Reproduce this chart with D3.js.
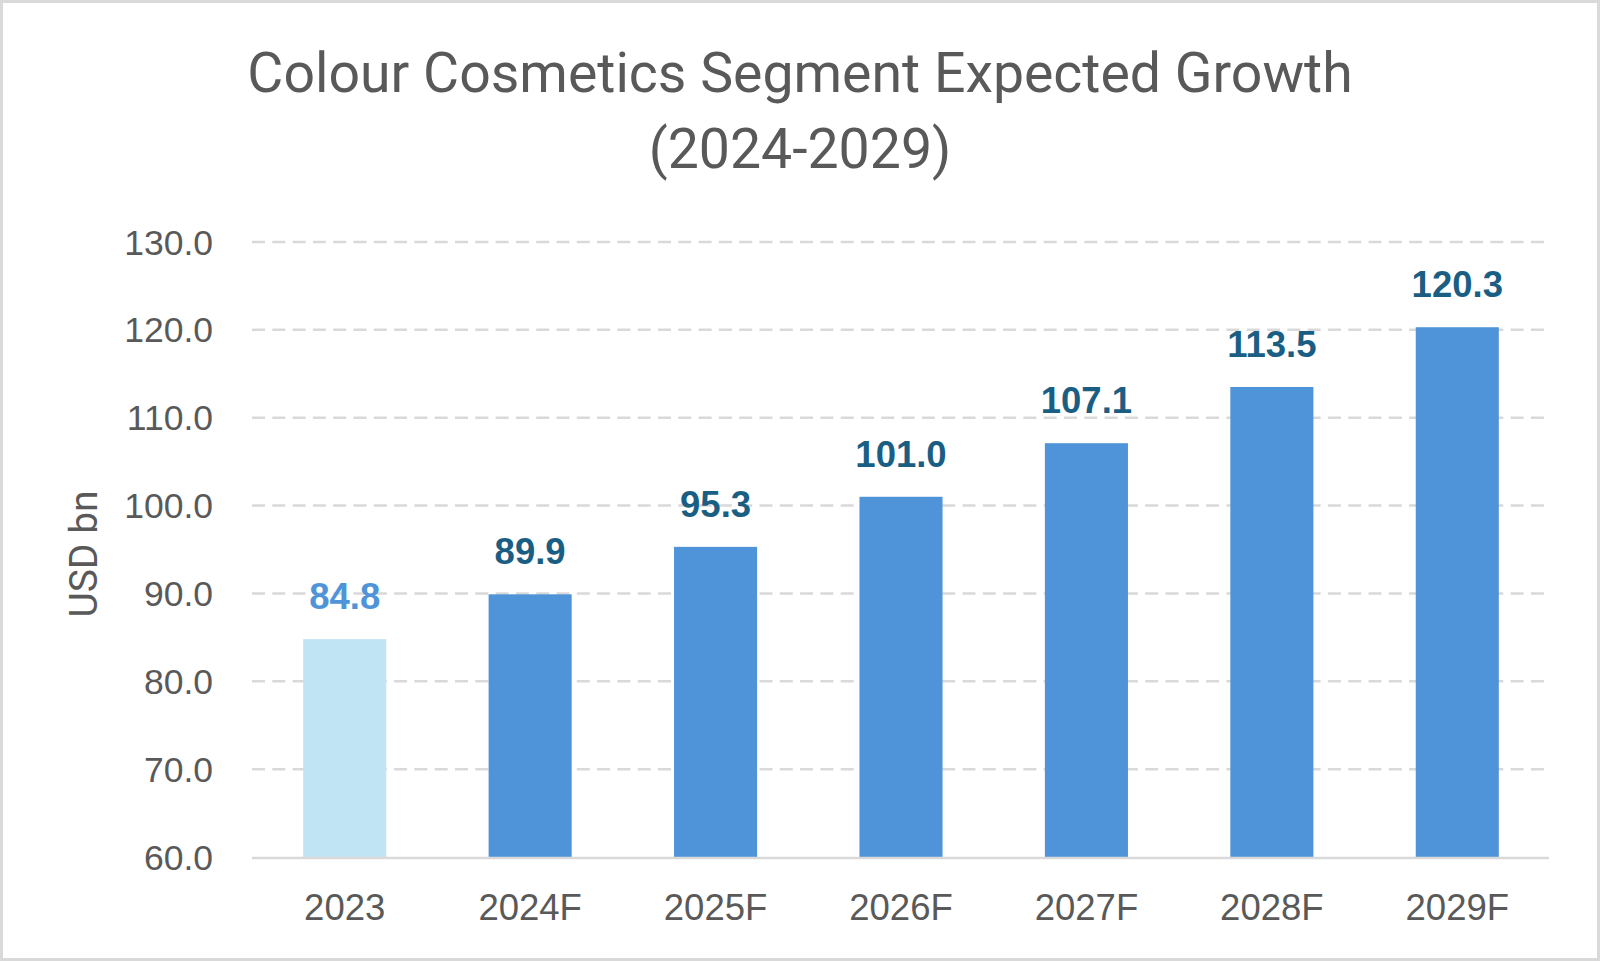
<!DOCTYPE html>
<html>
<head>
<meta charset="utf-8">
<script src="https://cdn.jsdelivr.net/npm/d3@7"></script>
<style>
html,body{margin:0;padding:0;background:#fff;}
svg{display:block;}
</style>
</head>
<body>
<svg id="chart" width="1600" height="961"></svg>
<script>
const categories = ["2023","2024F","2025F","2026F","2027F","2028F","2029F"];
const values = [84.8, 89.9, 95.3, 101.0, 107.1, 113.5, 120.3];
const yTicks = [60,70,80,90,100,110,120,130];
const titleLines = ["Colour Cosmetics Segment Expected Growth","(2024-2029)"];
const yAxisTitle = "USD bn";

const W = 1600, H = 961;
const svg = d3.select("#chart");
const textColor = "#595959";

// border
svg.append("rect").attr("x",1.5).attr("y",1.5).attr("width",W-3).attr("height",H-3)
  .attr("fill","#fff").attr("stroke","#D9D9D9").attr("stroke-width",3);

const plot = {left:252, right:1545, top:242, bottom:857};

const x = d3.scaleBand().domain(categories).range([252, 1550]).paddingInner(0.552).paddingOuter(0.276);
const y = d3.scaleLinear().domain([60,130]).range([plot.bottom, plot.top]);

// gridlines
svg.append("g").selectAll("line").data(yTicks.filter(t=>t>60)).join("line")
  .attr("x1",plot.left).attr("x2",plot.right)
  .attr("y1",d=>y(d)).attr("y2",d=>y(d))
  .attr("stroke","#D9D9D9").attr("stroke-width",2.5).attr("stroke-dasharray","13,7.3");

// y tick labels via axis
const yAxis = d3.axisLeft(y).tickValues(yTicks).tickFormat(d3.format(".1f")).tickSize(0).tickPadding(0);
const gy = svg.append("g").attr("transform",`translate(213,0)`).call(yAxis);
gy.select(".domain").remove();
gy.selectAll("text").attr("fill",textColor).style("font-family","'Liberation Sans', Arial, sans-serif")
  .style("font-size","35.5px").attr("dy","0.34em");

// bars
svg.append("g").selectAll("rect").data(values).join("rect")
  .attr("x",(d,i)=>x(categories[i]))
  .attr("width",x.bandwidth())
  .attr("y",d=>y(d))
  .attr("height",d=>y(60)-y(d))
  .attr("fill",(d,i)=> i===0 ? "#C1E4F5" : "#4F94D8");

// baseline
svg.append("line").attr("x1",plot.left).attr("x2",1549).attr("y1",plot.bottom+1).attr("y2",plot.bottom+1)
  .attr("stroke","#D9D9D9").attr("stroke-width",2.5);

// x axis labels
const xAxis = d3.axisBottom(x).tickSize(0).tickPadding(0);
const gx = svg.append("g").attr("transform",`translate(0,${plot.bottom})`).call(xAxis);
gx.select(".domain").remove();
gx.selectAll("text").attr("fill",textColor).style("font-family","'Liberation Sans', Arial, sans-serif")
  .style("font-size","36.5px").attr("y",63).attr("dy",0);

// data labels
svg.append("g").selectAll("text").data(values).join("text")
  .attr("x",(d,i)=>x(categories[i])+x.bandwidth()/2)
  .attr("y",d=>y(d)-30)
  .attr("text-anchor","middle")
  .attr("fill",(d,i)=> i===0 ? "#4F94D8" : "#1A5E83")
  .style("font-family","'Liberation Sans', Arial, sans-serif")
  .style("font-weight","bold").style("font-size","36.5px")
  .text(d=>d3.format(".1f")(d));

// title
svg.append("g").selectAll("text").data(titleLines).join("text")
  .attr("x",800).attr("y",(d,i)=>92+i*76)
  .attr("text-anchor","middle").attr("fill",textColor)
  .style("font-family","Roboto, 'Open Sans', sans-serif").style("font-size","55.4px")
  .text(d=>d);

// y axis title
svg.append("text").attr("transform","translate(97,554) rotate(-90)")
  .attr("text-anchor","middle").attr("fill",textColor)
  .style("font-family","Roboto, 'Liberation Sans', sans-serif").style("font-size","39px")
  .text(yAxisTitle);
</script>
</body>
</html>
